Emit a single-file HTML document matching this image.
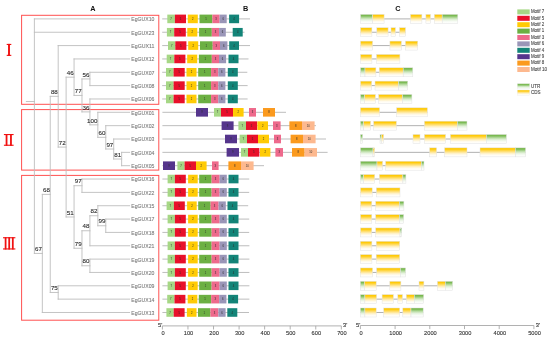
<!DOCTYPE html>
<html><head><meta charset="utf-8"><title>EgGUX</title>
<style>html,body{margin:0;padding:0;background:#fff;width:550px;height:340px;overflow:hidden}svg{display:block;font-family:"Liberation Sans",sans-serif;will-change:transform}</style></head><body>
<svg width="550" height="340" viewBox="0 0 550 340">
<defs><linearGradient id="gc" x1="0" y1="0" x2="0" y2="1"><stop offset="0" stop-color="#ffc800"/><stop offset="0.15" stop-color="#ffca0a"/><stop offset="0.4" stop-color="#ffdf72"/><stop offset="0.6" stop-color="#fff0c2"/><stop offset="0.8" stop-color="#fffcf3"/><stop offset="1" stop-color="#ffffff"/></linearGradient><linearGradient id="gu" x1="0" y1="0" x2="0" y2="1"><stop offset="0" stop-color="#70b341"/><stop offset="0.15" stop-color="#7cbb55"/><stop offset="0.4" stop-color="#bddfa9"/><stop offset="0.6" stop-color="#e5f2dd"/><stop offset="0.8" stop-color="#f8fcf6"/><stop offset="1" stop-color="#ffffff"/></linearGradient><linearGradient id="lgc" x1="0" y1="0" x2="0" y2="1"><stop offset="0" stop-color="#ffc800"/><stop offset="0.25" stop-color="#ffcd20"/><stop offset="0.55" stop-color="#ffeaa8"/><stop offset="0.8" stop-color="#fffaea"/><stop offset="1" stop-color="#ffffff"/></linearGradient><linearGradient id="lgu" x1="0" y1="0" x2="0" y2="1"><stop offset="0" stop-color="#72b443"/><stop offset="0.25" stop-color="#86c062"/><stop offset="0.55" stop-color="#cfe7c2"/><stop offset="0.8" stop-color="#f3f9ef"/><stop offset="1" stop-color="#ffffff"/></linearGradient></defs>
<rect width="550" height="340" fill="#fff"/>
<g font-weight="bold" font-size="7.3" fill="#111">
<text x="92.9" y="11" text-anchor="middle">A</text>
<text x="245.6" y="11" text-anchor="middle">B</text>
<text x="398" y="11" text-anchor="middle">C</text>
</g>
<g fill="none" stroke="#ff5050" stroke-width="1">
<rect x="21.6" y="15.3" width="137.2" height="89"/>
<rect x="21.6" y="109.6" width="137.2" height="60.5"/>
<rect x="21.6" y="175.4" width="137.2" height="144.8"/>
</g>
<g fill="#f01010">
<rect x="8.05" y="43.9" width="1.9" height="12"/><rect x="6.7" y="43.9" width="4.6" height="1.1"/><rect x="6.7" y="54.8" width="4.6" height="1.1"/>
<rect x="5.65" y="134" width="1.8" height="11.8"/><rect x="10.05" y="134" width="1.8" height="11.8"/><rect x="3.9" y="134" width="9.7" height="1.1"/><rect x="3.9" y="144.7" width="9.7" height="1.1"/>
<rect x="4.72" y="237.2" width="1.75" height="12.3"/><rect x="8.32" y="237.2" width="1.75" height="12.3"/><rect x="11.93" y="237.2" width="1.75" height="12.3"/><rect x="3.02" y="237.2" width="12.35" height="1.1"/><rect x="3.02" y="248.4" width="12.35" height="1.1"/>
</g>
<g stroke="#bdbdbd" stroke-width="0.9" fill="none" stroke-linecap="square">
<line x1="34.4" y1="18.9" x2="34.4" y2="253.45"/>
<line x1="34.4" y1="18.9" x2="129.6" y2="18.9"/>
<line x1="34.4" y1="32.24" x2="129.6" y2="32.24"/>
<line x1="34.4" y1="253.45" x2="42.33" y2="253.45"/>
<line x1="42.33" y1="194.4" x2="42.33" y2="312.49"/>
<line x1="42.33" y1="194.4" x2="50.26" y2="194.4"/>
<line x1="42.33" y1="312.49" x2="129.6" y2="312.49"/>
<line x1="50.26" y1="96.34" x2="50.26" y2="292.47"/>
<line x1="50.26" y1="96.34" x2="58.19" y2="96.34"/>
<line x1="50.26" y1="292.47" x2="58.19" y2="292.47"/>
<line x1="58.19" y1="45.59" x2="58.19" y2="147.08"/>
<line x1="58.19" y1="45.59" x2="129.6" y2="45.59"/>
<line x1="58.19" y1="147.08" x2="66.12" y2="147.08"/>
<line x1="66.12" y1="77.18" x2="66.12" y2="216.99"/>
<line x1="66.12" y1="77.18" x2="74.05" y2="77.18"/>
<line x1="66.12" y1="216.99" x2="74.05" y2="216.99"/>
<line x1="74.05" y1="58.94" x2="74.05" y2="95.43"/>
<line x1="74.05" y1="58.94" x2="129.6" y2="58.94"/>
<line x1="74.05" y1="95.43" x2="81.98" y2="95.43"/>
<line x1="81.98" y1="78.95" x2="81.98" y2="111.9"/>
<line x1="81.98" y1="78.95" x2="89.91" y2="78.95"/>
<line x1="81.98" y1="111.9" x2="89.91" y2="111.9"/>
<line x1="89.91" y1="72.28" x2="89.91" y2="85.62"/>
<line x1="89.91" y1="72.28" x2="129.6" y2="72.28"/>
<line x1="89.91" y1="85.62" x2="129.6" y2="85.62"/>
<line x1="89.91" y1="98.97" x2="89.91" y2="124.83"/>
<line x1="89.91" y1="98.97" x2="129.6" y2="98.97"/>
<line x1="89.91" y1="124.83" x2="97.84" y2="124.83"/>
<line x1="97.84" y1="112.31" x2="97.84" y2="137.34"/>
<line x1="97.84" y1="112.31" x2="129.6" y2="112.31"/>
<line x1="97.84" y1="137.34" x2="105.77" y2="137.34"/>
<line x1="105.77" y1="125.66" x2="105.77" y2="149.01"/>
<line x1="105.77" y1="125.66" x2="129.6" y2="125.66"/>
<line x1="105.77" y1="149.01" x2="113.7" y2="149.01"/>
<line x1="113.7" y1="139" x2="113.7" y2="159.02"/>
<line x1="113.7" y1="139" x2="129.6" y2="139"/>
<line x1="113.7" y1="159.02" x2="121.63" y2="159.02"/>
<line x1="121.63" y1="152.35" x2="121.63" y2="165.7"/>
<line x1="121.63" y1="152.35" x2="129.6" y2="152.35"/>
<line x1="121.63" y1="165.7" x2="129.6" y2="165.7"/>
<line x1="74.05" y1="185.71" x2="74.05" y2="248.27"/>
<line x1="74.05" y1="185.71" x2="81.98" y2="185.71"/>
<line x1="74.05" y1="248.27" x2="81.98" y2="248.27"/>
<line x1="81.98" y1="179.04" x2="81.98" y2="192.39"/>
<line x1="81.98" y1="179.04" x2="129.6" y2="179.04"/>
<line x1="81.98" y1="192.39" x2="129.6" y2="192.39"/>
<line x1="81.98" y1="230.75" x2="81.98" y2="265.78"/>
<line x1="81.98" y1="230.75" x2="89.91" y2="230.75"/>
<line x1="81.98" y1="265.78" x2="89.91" y2="265.78"/>
<line x1="89.91" y1="215.74" x2="89.91" y2="245.77"/>
<line x1="89.91" y1="215.74" x2="97.84" y2="215.74"/>
<line x1="89.91" y1="245.77" x2="129.6" y2="245.77"/>
<line x1="97.84" y1="205.73" x2="97.84" y2="225.75"/>
<line x1="97.84" y1="205.73" x2="129.6" y2="205.73"/>
<line x1="97.84" y1="225.75" x2="105.77" y2="225.75"/>
<line x1="105.77" y1="219.08" x2="105.77" y2="232.42"/>
<line x1="105.77" y1="219.08" x2="129.6" y2="219.08"/>
<line x1="105.77" y1="232.42" x2="129.6" y2="232.42"/>
<line x1="89.91" y1="259.11" x2="89.91" y2="272.45"/>
<line x1="89.91" y1="259.11" x2="129.6" y2="259.11"/>
<line x1="89.91" y1="272.45" x2="129.6" y2="272.45"/>
<line x1="58.19" y1="285.8" x2="58.19" y2="299.14"/>
<line x1="58.19" y1="285.8" x2="129.6" y2="285.8"/>
<line x1="58.19" y1="299.14" x2="129.6" y2="299.14"/>
<line x1="26.4" y1="101.53" x2="34.4" y2="101.53"/>
</g>
<g font-size="6.2" fill="#2a2a2a" stroke="#2a2a2a" stroke-width="0.1" text-anchor="end">
<text x="41.93" y="251.15">67</text>
<text x="49.86" y="192.1">68</text>
<text x="57.79" y="94.04">88</text>
<text x="57.79" y="290.17">75</text>
<text x="65.72" y="144.78">72</text>
<text x="73.65" y="74.88">46</text>
<text x="73.65" y="214.69">51</text>
<text x="81.58" y="93.13">77</text>
<text x="89.51" y="76.65">56</text>
<text x="89.51" y="109.6">36</text>
<text x="97.44" y="122.53">100</text>
<text x="105.37" y="135.04">60</text>
<text x="113.3" y="146.71">97</text>
<text x="121.23" y="156.72">81</text>
<text x="81.58" y="183.41">97</text>
<text x="81.58" y="245.97">79</text>
<text x="89.51" y="228.45">48</text>
<text x="89.51" y="263.48">80</text>
<text x="97.44" y="213.44">82</text>
<text x="105.37" y="223.45">99</text>
</g>
<g font-size="5.8" fill="#747474" stroke="#747474" stroke-width="0.08">
<text x="131.3" y="21.3" textLength="23.2" lengthAdjust="spacingAndGlyphs">EgGUX10</text>
<text x="131.3" y="34.64" textLength="23.2" lengthAdjust="spacingAndGlyphs">EgGUX23</text>
<text x="131.3" y="47.99" textLength="23.2" lengthAdjust="spacingAndGlyphs">EgGUX11</text>
<text x="131.3" y="61.34" textLength="23.2" lengthAdjust="spacingAndGlyphs">EgGUX12</text>
<text x="131.3" y="74.68" textLength="23.2" lengthAdjust="spacingAndGlyphs">EgGUX07</text>
<text x="131.3" y="88.03" textLength="23.2" lengthAdjust="spacingAndGlyphs">EgGUX08</text>
<text x="131.3" y="101.37" textLength="23.2" lengthAdjust="spacingAndGlyphs">EgGUX06</text>
<text x="131.3" y="114.72" textLength="23.2" lengthAdjust="spacingAndGlyphs">EgGUX01</text>
<text x="131.3" y="128.06" textLength="23.2" lengthAdjust="spacingAndGlyphs">EgGUX02</text>
<text x="131.3" y="141.41" textLength="23.2" lengthAdjust="spacingAndGlyphs">EgGUX03</text>
<text x="131.3" y="154.75" textLength="23.2" lengthAdjust="spacingAndGlyphs">EgGUX04</text>
<text x="131.3" y="168.1" textLength="23.2" lengthAdjust="spacingAndGlyphs">EgGUX05</text>
<text x="131.3" y="181.44" textLength="23.2" lengthAdjust="spacingAndGlyphs">EgGUX16</text>
<text x="131.3" y="194.79" textLength="23.2" lengthAdjust="spacingAndGlyphs">EgGUX22</text>
<text x="131.3" y="208.13" textLength="23.2" lengthAdjust="spacingAndGlyphs">EgGUX15</text>
<text x="131.3" y="221.48" textLength="23.2" lengthAdjust="spacingAndGlyphs">EgGUX17</text>
<text x="131.3" y="234.82" textLength="23.2" lengthAdjust="spacingAndGlyphs">EgGUX18</text>
<text x="131.3" y="248.17" textLength="23.2" lengthAdjust="spacingAndGlyphs">EgGUX21</text>
<text x="131.3" y="261.51" textLength="23.2" lengthAdjust="spacingAndGlyphs">EgGUX19</text>
<text x="131.3" y="274.85" textLength="23.2" lengthAdjust="spacingAndGlyphs">EgGUX20</text>
<text x="131.3" y="288.2" textLength="23.2" lengthAdjust="spacingAndGlyphs">EgGUX09</text>
<text x="131.3" y="301.54" textLength="23.2" lengthAdjust="spacingAndGlyphs">EgGUX14</text>
<text x="131.3" y="314.89" textLength="23.2" lengthAdjust="spacingAndGlyphs">EgGUX13</text>
</g>
<g stroke="#b5b5b5" stroke-width="0.9">
<line x1="162.2" y1="18.9" x2="250" y2="18.9"/>
<line x1="162.2" y1="32.24" x2="244.5" y2="32.24"/>
<line x1="162.2" y1="45.59" x2="250" y2="45.59"/>
<line x1="162.2" y1="58.94" x2="248.5" y2="58.94"/>
<line x1="162.2" y1="72.28" x2="247.3" y2="72.28"/>
<line x1="162.2" y1="85.62" x2="247.6" y2="85.62"/>
<line x1="162.2" y1="98.97" x2="247.6" y2="98.97"/>
<line x1="162.4" y1="112.31" x2="286" y2="112.31"/>
<line x1="162.4" y1="125.66" x2="316" y2="125.66"/>
<line x1="162.4" y1="139" x2="326" y2="139"/>
<line x1="162.4" y1="152.35" x2="327.6" y2="152.35"/>
<line x1="162.4" y1="165.7" x2="264" y2="165.7"/>
<line x1="162.4" y1="179.04" x2="249.2" y2="179.04"/>
<line x1="162.4" y1="192.39" x2="249.2" y2="192.39"/>
<line x1="162.4" y1="205.73" x2="248.2" y2="205.73"/>
<line x1="162.4" y1="219.08" x2="249.2" y2="219.08"/>
<line x1="162.4" y1="232.42" x2="249.2" y2="232.42"/>
<line x1="162.4" y1="245.77" x2="249.4" y2="245.77"/>
<line x1="162.4" y1="259.11" x2="249.4" y2="259.11"/>
<line x1="162.4" y1="272.45" x2="249.4" y2="272.45"/>
<line x1="162.4" y1="285.8" x2="249.4" y2="285.8"/>
<line x1="162.4" y1="299.14" x2="249.4" y2="299.14"/>
<line x1="162.4" y1="312.49" x2="249" y2="312.49"/>
</g>
<g>
<rect x="167.3" y="14.6" width="7.6" height="8.6" fill="#a6d785"/>
<rect x="174.9" y="14.6" width="11.1" height="8.6" fill="#e8102a"/>
<rect x="187.8" y="14.6" width="10" height="8.6" fill="#ffcb05"/>
<rect x="199.5" y="14.6" width="12.9" height="8.6" fill="#6cb043"/>
<rect x="212.4" y="14.6" width="7.2" height="8.6" fill="#ee6a8c"/>
<rect x="219.6" y="14.6" width="7.1" height="8.6" fill="#9a96b8"/>
<rect x="229.1" y="14.6" width="10" height="8.6" fill="#138478"/>
<rect x="166.9" y="27.94" width="7.3" height="8.6" fill="#a6d785"/>
<rect x="174.2" y="27.94" width="11.6" height="8.6" fill="#e8102a"/>
<rect x="187.3" y="27.94" width="10" height="8.6" fill="#ffcb05"/>
<rect x="199.1" y="27.94" width="12.7" height="8.6" fill="#6cb043"/>
<rect x="211.8" y="27.94" width="7.3" height="8.6" fill="#ee6a8c"/>
<rect x="219.1" y="27.94" width="6.7" height="8.6" fill="#9a96b8"/>
<rect x="232.7" y="27.94" width="10" height="8.6" fill="#138478"/>
<rect x="168" y="41.29" width="7.3" height="8.6" fill="#a6d785"/>
<rect x="175.3" y="41.29" width="11.1" height="8.6" fill="#e8102a"/>
<rect x="188.2" y="41.29" width="10" height="8.6" fill="#ffcb05"/>
<rect x="200" y="41.29" width="12.7" height="8.6" fill="#6cb043"/>
<rect x="212.7" y="41.29" width="7.3" height="8.6" fill="#ee6a8c"/>
<rect x="220" y="41.29" width="7.4" height="8.6" fill="#9a96b8"/>
<rect x="229.2" y="41.29" width="9.8" height="8.6" fill="#138478"/>
<rect x="166.7" y="54.64" width="7.6" height="8.6" fill="#a6d785"/>
<rect x="174.3" y="54.64" width="11.1" height="8.6" fill="#e8102a"/>
<rect x="187.2" y="54.64" width="10" height="8.6" fill="#ffcb05"/>
<rect x="198.9" y="54.64" width="12.9" height="8.6" fill="#6cb043"/>
<rect x="211.8" y="54.64" width="7.2" height="8.6" fill="#ee6a8c"/>
<rect x="219" y="54.64" width="7.1" height="8.6" fill="#9a96b8"/>
<rect x="228.5" y="54.64" width="10" height="8.6" fill="#138478"/>
<rect x="166" y="67.98" width="7.6" height="8.6" fill="#a6d785"/>
<rect x="173.6" y="67.98" width="11.1" height="8.6" fill="#e8102a"/>
<rect x="186.5" y="67.98" width="10" height="8.6" fill="#ffcb05"/>
<rect x="198.2" y="67.98" width="12.9" height="8.6" fill="#6cb043"/>
<rect x="211.1" y="67.98" width="7.2" height="8.6" fill="#ee6a8c"/>
<rect x="218.3" y="67.98" width="7.1" height="8.6" fill="#9a96b8"/>
<rect x="227.8" y="67.98" width="10" height="8.6" fill="#138478"/>
<rect x="166" y="81.33" width="7.6" height="8.6" fill="#a6d785"/>
<rect x="173.6" y="81.33" width="11.1" height="8.6" fill="#e8102a"/>
<rect x="186.5" y="81.33" width="10" height="8.6" fill="#ffcb05"/>
<rect x="198.2" y="81.33" width="12.9" height="8.6" fill="#6cb043"/>
<rect x="211.1" y="81.33" width="7.2" height="8.6" fill="#ee6a8c"/>
<rect x="218.3" y="81.33" width="7.1" height="8.6" fill="#9a96b8"/>
<rect x="227.8" y="81.33" width="10" height="8.6" fill="#138478"/>
<rect x="166" y="94.67" width="7.6" height="8.6" fill="#a6d785"/>
<rect x="173.6" y="94.67" width="11.1" height="8.6" fill="#e8102a"/>
<rect x="186.5" y="94.67" width="10" height="8.6" fill="#ffcb05"/>
<rect x="198.2" y="94.67" width="12.9" height="8.6" fill="#6cb043"/>
<rect x="211.1" y="94.67" width="7.2" height="8.6" fill="#ee6a8c"/>
<rect x="218.3" y="94.67" width="7.1" height="8.6" fill="#9a96b8"/>
<rect x="227.8" y="94.67" width="10" height="8.6" fill="#138478"/>
<rect x="196" y="108.02" width="12" height="8.6" fill="#55358c"/>
<rect x="214" y="108.02" width="7" height="8.6" fill="#a6d785"/>
<rect x="221" y="108.02" width="12" height="8.6" fill="#e8102a"/>
<rect x="233" y="108.02" width="10.6" height="8.6" fill="#ffcb05"/>
<rect x="249" y="108.02" width="7" height="8.6" fill="#ee6a8c"/>
<rect x="263" y="108.02" width="12" height="8.6" fill="#fb9a1e"/>
<rect x="221.6" y="121.36" width="12" height="8.6" fill="#55358c"/>
<rect x="238.4" y="121.36" width="7.6" height="8.6" fill="#a6d785"/>
<rect x="246" y="121.36" width="11.2" height="8.6" fill="#e8102a"/>
<rect x="257.4" y="121.36" width="10.6" height="8.6" fill="#ffcb05"/>
<rect x="273" y="121.36" width="7.6" height="8.6" fill="#ee6a8c"/>
<rect x="289.4" y="121.36" width="12.6" height="8.6" fill="#fb9a1e"/>
<rect x="302" y="121.36" width="12.6" height="8.6" fill="#fdb98f"/>
<rect x="225" y="134.7" width="12" height="8.6" fill="#55358c"/>
<rect x="239.6" y="134.7" width="7.4" height="8.6" fill="#a6d785"/>
<rect x="247" y="134.7" width="11" height="8.6" fill="#e8102a"/>
<rect x="258" y="134.7" width="11" height="8.6" fill="#ffcb05"/>
<rect x="274" y="134.7" width="7" height="8.6" fill="#ee6a8c"/>
<rect x="290.6" y="134.7" width="12.4" height="8.6" fill="#fb9a1e"/>
<rect x="303" y="134.7" width="12.6" height="8.6" fill="#fdb98f"/>
<rect x="226.6" y="148.05" width="12.4" height="8.6" fill="#55358c"/>
<rect x="241" y="148.05" width="7" height="8.6" fill="#a6d785"/>
<rect x="248" y="148.05" width="11.4" height="8.6" fill="#e8102a"/>
<rect x="260" y="148.05" width="10.4" height="8.6" fill="#ffcb05"/>
<rect x="275.4" y="148.05" width="7.6" height="8.6" fill="#ee6a8c"/>
<rect x="292" y="148.05" width="12.6" height="8.6" fill="#fb9a1e"/>
<rect x="304.6" y="148.05" width="12.4" height="8.6" fill="#fdb98f"/>
<rect x="163" y="161.4" width="12" height="8.6" fill="#55358c"/>
<rect x="177.4" y="161.4" width="7.2" height="8.6" fill="#a6d785"/>
<rect x="184.6" y="161.4" width="11.4" height="8.6" fill="#e8102a"/>
<rect x="196" y="161.4" width="10.6" height="8.6" fill="#ffcb05"/>
<rect x="212" y="161.4" width="6.6" height="8.6" fill="#ee6a8c"/>
<rect x="228.4" y="161.4" width="12.6" height="8.6" fill="#fb9a1e"/>
<rect x="241" y="161.4" width="12.6" height="8.6" fill="#fdb98f"/>
<rect x="167.6" y="174.74" width="7.3" height="8.6" fill="#a6d785"/>
<rect x="174.9" y="174.74" width="10.9" height="8.6" fill="#e8102a"/>
<rect x="188.1" y="174.74" width="9.6" height="8.6" fill="#ffcb05"/>
<rect x="199.2" y="174.74" width="12.4" height="8.6" fill="#6cb043"/>
<rect x="211.6" y="174.74" width="8" height="8.6" fill="#ee6a8c"/>
<rect x="219.6" y="174.74" width="7.2" height="8.6" fill="#9a96b8"/>
<rect x="228.5" y="174.74" width="10" height="8.6" fill="#138478"/>
<rect x="167.6" y="188.09" width="7.3" height="8.6" fill="#a6d785"/>
<rect x="174.9" y="188.09" width="10.9" height="8.6" fill="#e8102a"/>
<rect x="188.1" y="188.09" width="9.6" height="8.6" fill="#ffcb05"/>
<rect x="199.2" y="188.09" width="12.4" height="8.6" fill="#6cb043"/>
<rect x="211.6" y="188.09" width="8" height="8.6" fill="#ee6a8c"/>
<rect x="219.6" y="188.09" width="7.2" height="8.6" fill="#9a96b8"/>
<rect x="228.5" y="188.09" width="10" height="8.6" fill="#138478"/>
<rect x="166.6" y="201.43" width="7.3" height="8.6" fill="#a6d785"/>
<rect x="173.9" y="201.43" width="10.9" height="8.6" fill="#e8102a"/>
<rect x="187.1" y="201.43" width="9.6" height="8.6" fill="#ffcb05"/>
<rect x="198.2" y="201.43" width="12.4" height="8.6" fill="#6cb043"/>
<rect x="210.6" y="201.43" width="8" height="8.6" fill="#ee6a8c"/>
<rect x="218.6" y="201.43" width="7.2" height="8.6" fill="#9a96b8"/>
<rect x="227.5" y="201.43" width="10" height="8.6" fill="#138478"/>
<rect x="167.6" y="214.78" width="7.3" height="8.6" fill="#a6d785"/>
<rect x="174.9" y="214.78" width="10.9" height="8.6" fill="#e8102a"/>
<rect x="188.1" y="214.78" width="9.6" height="8.6" fill="#ffcb05"/>
<rect x="199.2" y="214.78" width="12.4" height="8.6" fill="#6cb043"/>
<rect x="211.6" y="214.78" width="8" height="8.6" fill="#ee6a8c"/>
<rect x="219.6" y="214.78" width="7.2" height="8.6" fill="#9a96b8"/>
<rect x="228.5" y="214.78" width="10" height="8.6" fill="#138478"/>
<rect x="167.6" y="228.12" width="7.3" height="8.6" fill="#a6d785"/>
<rect x="174.9" y="228.12" width="10.9" height="8.6" fill="#e8102a"/>
<rect x="188.1" y="228.12" width="9.6" height="8.6" fill="#ffcb05"/>
<rect x="199.2" y="228.12" width="12.4" height="8.6" fill="#6cb043"/>
<rect x="211.6" y="228.12" width="8" height="8.6" fill="#ee6a8c"/>
<rect x="219.6" y="228.12" width="7.2" height="8.6" fill="#9a96b8"/>
<rect x="228.5" y="228.12" width="10" height="8.6" fill="#138478"/>
<rect x="167.6" y="241.47" width="7.3" height="8.6" fill="#a6d785"/>
<rect x="174.9" y="241.47" width="10.9" height="8.6" fill="#e8102a"/>
<rect x="188.1" y="241.47" width="9.6" height="8.6" fill="#ffcb05"/>
<rect x="199.2" y="241.47" width="12.4" height="8.6" fill="#6cb043"/>
<rect x="211.6" y="241.47" width="8" height="8.6" fill="#ee6a8c"/>
<rect x="219.6" y="241.47" width="7.2" height="8.6" fill="#9a96b8"/>
<rect x="228.5" y="241.47" width="10" height="8.6" fill="#138478"/>
<rect x="167.6" y="254.81" width="7.3" height="8.6" fill="#a6d785"/>
<rect x="174.9" y="254.81" width="10.9" height="8.6" fill="#e8102a"/>
<rect x="188.1" y="254.81" width="9.6" height="8.6" fill="#ffcb05"/>
<rect x="199.2" y="254.81" width="12.4" height="8.6" fill="#6cb043"/>
<rect x="211.6" y="254.81" width="8" height="8.6" fill="#ee6a8c"/>
<rect x="219.6" y="254.81" width="7.2" height="8.6" fill="#9a96b8"/>
<rect x="228.5" y="254.81" width="10" height="8.6" fill="#138478"/>
<rect x="167.6" y="268.15" width="7.3" height="8.6" fill="#a6d785"/>
<rect x="174.9" y="268.15" width="10.9" height="8.6" fill="#e8102a"/>
<rect x="188.1" y="268.15" width="9.6" height="8.6" fill="#ffcb05"/>
<rect x="199.2" y="268.15" width="12.4" height="8.6" fill="#6cb043"/>
<rect x="211.6" y="268.15" width="8" height="8.6" fill="#ee6a8c"/>
<rect x="219.6" y="268.15" width="7.2" height="8.6" fill="#9a96b8"/>
<rect x="228.5" y="268.15" width="10" height="8.6" fill="#138478"/>
<rect x="167.6" y="281.5" width="7.3" height="8.6" fill="#a6d785"/>
<rect x="174.9" y="281.5" width="10.9" height="8.6" fill="#e8102a"/>
<rect x="188.1" y="281.5" width="9.6" height="8.6" fill="#ffcb05"/>
<rect x="199.2" y="281.5" width="12.4" height="8.6" fill="#6cb043"/>
<rect x="211.6" y="281.5" width="8" height="8.6" fill="#ee6a8c"/>
<rect x="219.6" y="281.5" width="7.2" height="8.6" fill="#9a96b8"/>
<rect x="228.5" y="281.5" width="10" height="8.6" fill="#138478"/>
<rect x="167.2" y="294.84" width="7.3" height="8.6" fill="#a6d785"/>
<rect x="174.5" y="294.84" width="10.9" height="8.6" fill="#e8102a"/>
<rect x="187.7" y="294.84" width="9.6" height="8.6" fill="#ffcb05"/>
<rect x="198.8" y="294.84" width="12.4" height="8.6" fill="#6cb043"/>
<rect x="211.2" y="294.84" width="8" height="8.6" fill="#ee6a8c"/>
<rect x="219.2" y="294.84" width="7.2" height="8.6" fill="#9a96b8"/>
<rect x="228.1" y="294.84" width="10" height="8.6" fill="#138478"/>
<rect x="166.4" y="308.19" width="7.3" height="8.6" fill="#a6d785"/>
<rect x="173.7" y="308.19" width="10.9" height="8.6" fill="#e8102a"/>
<rect x="186.9" y="308.19" width="9.6" height="8.6" fill="#ffcb05"/>
<rect x="198" y="308.19" width="12.4" height="8.6" fill="#6cb043"/>
<rect x="210.4" y="308.19" width="8" height="8.6" fill="#ee6a8c"/>
<rect x="218.4" y="308.19" width="7.2" height="8.6" fill="#9a96b8"/>
<rect x="227.3" y="308.19" width="10" height="8.6" fill="#138478"/>
</g>
<g font-size="2.7" fill="#2a2a2a" text-anchor="middle">
<text x="171.1" y="19.95">7</text>
<text x="180.45" y="19.95">5</text>
<text x="192.8" y="19.95">2</text>
<text x="205.95" y="19.95">1</text>
<text x="216" y="19.95">3</text>
<text x="223.15" y="19.95">6</text>
<text x="234.1" y="19.95">4</text>
<text x="170.55" y="33.29">7</text>
<text x="180" y="33.29">5</text>
<text x="192.3" y="33.29">2</text>
<text x="205.45" y="33.29">1</text>
<text x="215.45" y="33.29">3</text>
<text x="222.45" y="33.29">6</text>
<text x="237.7" y="33.29">4</text>
<text x="171.65" y="46.64">7</text>
<text x="180.85" y="46.64">5</text>
<text x="193.2" y="46.64">2</text>
<text x="206.35" y="46.64">1</text>
<text x="216.35" y="46.64">3</text>
<text x="223.7" y="46.64">6</text>
<text x="234.1" y="46.64">4</text>
<text x="170.5" y="59.98">7</text>
<text x="179.85" y="59.98">5</text>
<text x="192.2" y="59.98">2</text>
<text x="205.35" y="59.98">1</text>
<text x="215.4" y="59.98">3</text>
<text x="222.55" y="59.98">6</text>
<text x="233.5" y="59.98">4</text>
<text x="169.8" y="73.33">7</text>
<text x="179.15" y="73.33">5</text>
<text x="191.5" y="73.33">2</text>
<text x="204.65" y="73.33">1</text>
<text x="214.7" y="73.33">3</text>
<text x="221.85" y="73.33">6</text>
<text x="232.8" y="73.33">4</text>
<text x="169.8" y="86.67">7</text>
<text x="179.15" y="86.67">5</text>
<text x="191.5" y="86.67">2</text>
<text x="204.65" y="86.67">1</text>
<text x="214.7" y="86.67">3</text>
<text x="221.85" y="86.67">6</text>
<text x="232.8" y="86.67">4</text>
<text x="169.8" y="100.02">7</text>
<text x="179.15" y="100.02">5</text>
<text x="191.5" y="100.02">2</text>
<text x="204.65" y="100.02">1</text>
<text x="214.7" y="100.02">3</text>
<text x="221.85" y="100.02">6</text>
<text x="232.8" y="100.02">4</text>
<text x="202" y="113.36">9</text>
<text x="217.5" y="113.36">7</text>
<text x="227" y="113.36">5</text>
<text x="238.3" y="113.36">2</text>
<text x="252.5" y="113.36">3</text>
<text x="269" y="113.36">8</text>
<text x="227.6" y="126.71">9</text>
<text x="242.2" y="126.71">7</text>
<text x="251.6" y="126.71">5</text>
<text x="262.7" y="126.71">2</text>
<text x="276.8" y="126.71">3</text>
<text x="295.7" y="126.71">8</text>
<text x="308.3" y="126.71">10</text>
<text x="231" y="140.06">9</text>
<text x="243.3" y="140.06">7</text>
<text x="252.5" y="140.06">5</text>
<text x="263.5" y="140.06">2</text>
<text x="277.5" y="140.06">3</text>
<text x="296.8" y="140.06">8</text>
<text x="309.3" y="140.06">10</text>
<text x="232.8" y="153.4">9</text>
<text x="244.5" y="153.4">7</text>
<text x="253.7" y="153.4">5</text>
<text x="265.2" y="153.4">2</text>
<text x="279.2" y="153.4">3</text>
<text x="298.3" y="153.4">8</text>
<text x="310.8" y="153.4">10</text>
<text x="169" y="166.75">9</text>
<text x="181" y="166.75">7</text>
<text x="190.3" y="166.75">5</text>
<text x="201.3" y="166.75">2</text>
<text x="215.3" y="166.75">3</text>
<text x="234.7" y="166.75">8</text>
<text x="247.3" y="166.75">10</text>
<text x="171.25" y="180.09">7</text>
<text x="180.35" y="180.09">5</text>
<text x="192.9" y="180.09">2</text>
<text x="205.4" y="180.09">1</text>
<text x="215.6" y="180.09">3</text>
<text x="223.2" y="180.09">6</text>
<text x="233.5" y="180.09">4</text>
<text x="171.25" y="193.44">7</text>
<text x="180.35" y="193.44">5</text>
<text x="192.9" y="193.44">2</text>
<text x="205.4" y="193.44">1</text>
<text x="215.6" y="193.44">3</text>
<text x="223.2" y="193.44">6</text>
<text x="233.5" y="193.44">4</text>
<text x="170.25" y="206.78">7</text>
<text x="179.35" y="206.78">5</text>
<text x="191.9" y="206.78">2</text>
<text x="204.4" y="206.78">1</text>
<text x="214.6" y="206.78">3</text>
<text x="222.2" y="206.78">6</text>
<text x="232.5" y="206.78">4</text>
<text x="171.25" y="220.13">7</text>
<text x="180.35" y="220.13">5</text>
<text x="192.9" y="220.13">2</text>
<text x="205.4" y="220.13">1</text>
<text x="215.6" y="220.13">3</text>
<text x="223.2" y="220.13">6</text>
<text x="233.5" y="220.13">4</text>
<text x="171.25" y="233.47">7</text>
<text x="180.35" y="233.47">5</text>
<text x="192.9" y="233.47">2</text>
<text x="205.4" y="233.47">1</text>
<text x="215.6" y="233.47">3</text>
<text x="223.2" y="233.47">6</text>
<text x="233.5" y="233.47">4</text>
<text x="171.25" y="246.82">7</text>
<text x="180.35" y="246.82">5</text>
<text x="192.9" y="246.82">2</text>
<text x="205.4" y="246.82">1</text>
<text x="215.6" y="246.82">3</text>
<text x="223.2" y="246.82">6</text>
<text x="233.5" y="246.82">4</text>
<text x="171.25" y="260.16">7</text>
<text x="180.35" y="260.16">5</text>
<text x="192.9" y="260.16">2</text>
<text x="205.4" y="260.16">1</text>
<text x="215.6" y="260.16">3</text>
<text x="223.2" y="260.16">6</text>
<text x="233.5" y="260.16">4</text>
<text x="171.25" y="273.5">7</text>
<text x="180.35" y="273.5">5</text>
<text x="192.9" y="273.5">2</text>
<text x="205.4" y="273.5">1</text>
<text x="215.6" y="273.5">3</text>
<text x="223.2" y="273.5">6</text>
<text x="233.5" y="273.5">4</text>
<text x="171.25" y="286.85">7</text>
<text x="180.35" y="286.85">5</text>
<text x="192.9" y="286.85">2</text>
<text x="205.4" y="286.85">1</text>
<text x="215.6" y="286.85">3</text>
<text x="223.2" y="286.85">6</text>
<text x="233.5" y="286.85">4</text>
<text x="170.85" y="300.19">7</text>
<text x="179.95" y="300.19">5</text>
<text x="192.5" y="300.19">2</text>
<text x="205" y="300.19">1</text>
<text x="215.2" y="300.19">3</text>
<text x="222.8" y="300.19">6</text>
<text x="233.1" y="300.19">4</text>
<text x="170.05" y="313.54">7</text>
<text x="179.15" y="313.54">5</text>
<text x="191.7" y="313.54">2</text>
<text x="204.2" y="313.54">1</text>
<text x="214.4" y="313.54">3</text>
<text x="222" y="313.54">6</text>
<text x="232.3" y="313.54">4</text>
</g>
<g stroke="#a8a8a8" stroke-width="0.9">
<line x1="360.5" y1="18.9" x2="457.8" y2="18.9"/>
<line x1="360.5" y1="32.24" x2="405.5" y2="32.24"/>
<line x1="360.5" y1="45.59" x2="417.7" y2="45.59"/>
<line x1="360.5" y1="58.94" x2="399.9" y2="58.94"/>
<line x1="360.5" y1="72.28" x2="412.8" y2="72.28"/>
<line x1="360.5" y1="85.62" x2="407.7" y2="85.62"/>
<line x1="360.5" y1="98.97" x2="411.9" y2="98.97"/>
<line x1="360.4" y1="112.31" x2="427.4" y2="112.31"/>
<line x1="360.4" y1="125.66" x2="467" y2="125.66"/>
<line x1="360.4" y1="139" x2="506.4" y2="139"/>
<line x1="360.4" y1="152.35" x2="525.6" y2="152.35"/>
<line x1="360.4" y1="165.7" x2="424" y2="165.7"/>
<line x1="360.5" y1="179.04" x2="405.9" y2="179.04"/>
<line x1="360.5" y1="192.39" x2="400" y2="192.39"/>
<line x1="360.5" y1="205.73" x2="403.9" y2="205.73"/>
<line x1="360.5" y1="219.08" x2="403.7" y2="219.08"/>
<line x1="360.5" y1="232.42" x2="401.7" y2="232.42"/>
<line x1="360.3" y1="245.77" x2="399.7" y2="245.77"/>
<line x1="360.3" y1="259.11" x2="399.7" y2="259.11"/>
<line x1="360.3" y1="272.45" x2="405.6" y2="272.45"/>
<line x1="360.3" y1="285.8" x2="452.6" y2="285.8"/>
<line x1="360.3" y1="299.14" x2="423.7" y2="299.14"/>
<line x1="360.3" y1="312.49" x2="423.2" y2="312.49"/>
</g>
<g stroke="#e2e2e2" stroke-width="0.5">
<rect x="360.5" y="14.4" width="12.1" height="9" fill="url(#gu)"/>
<rect x="372.6" y="14.4" width="11.5" height="9" fill="url(#gc)"/>
<rect x="410.5" y="14.4" width="11.4" height="9" fill="url(#gc)"/>
<rect x="425.9" y="14.4" width="4.6" height="9" fill="url(#gc)"/>
<rect x="434.3" y="14.4" width="7.9" height="9" fill="url(#gc)"/>
<rect x="442.2" y="14.4" width="15.6" height="9" fill="url(#gu)"/>
<rect x="360.5" y="27.74" width="11.4" height="9" fill="url(#gc)"/>
<rect x="376.8" y="27.74" width="11.3" height="9" fill="url(#gc)"/>
<rect x="391" y="27.74" width="4.4" height="9" fill="url(#gc)"/>
<rect x="399.5" y="27.74" width="6" height="9" fill="url(#gc)"/>
<rect x="360.5" y="41.09" width="12.1" height="9" fill="url(#gc)"/>
<rect x="389.9" y="41.09" width="11.5" height="9" fill="url(#gc)"/>
<rect x="405.4" y="41.09" width="12.3" height="9" fill="url(#gc)"/>
<rect x="360.5" y="54.44" width="11.4" height="9" fill="url(#gc)"/>
<rect x="376.5" y="54.44" width="23.4" height="9" fill="url(#gc)"/>
<rect x="360.5" y="67.78" width="4.5" height="9" fill="url(#gu)"/>
<rect x="365" y="67.78" width="10.9" height="9" fill="url(#gc)"/>
<rect x="379.2" y="67.78" width="24" height="9" fill="url(#gc)"/>
<rect x="403.2" y="67.78" width="9.6" height="9" fill="url(#gu)"/>
<rect x="360.5" y="81.12" width="11.2" height="9" fill="url(#gc)"/>
<rect x="375" y="81.12" width="23.6" height="9" fill="url(#gc)"/>
<rect x="398.6" y="81.12" width="9.1" height="9" fill="url(#gu)"/>
<rect x="360.5" y="94.47" width="4" height="9" fill="url(#gu)"/>
<rect x="364.5" y="94.47" width="10.9" height="9" fill="url(#gc)"/>
<rect x="378.6" y="94.47" width="24" height="9" fill="url(#gc)"/>
<rect x="402.6" y="94.47" width="9.3" height="9" fill="url(#gu)"/>
<rect x="360.4" y="107.81" width="19.2" height="9" fill="url(#gc)"/>
<rect x="396.6" y="107.81" width="30.8" height="9" fill="url(#gc)"/>
<rect x="360.4" y="121.16" width="3.2" height="9" fill="url(#gu)"/>
<rect x="363.6" y="121.16" width="7" height="9" fill="url(#gc)"/>
<rect x="373.6" y="121.16" width="22.8" height="9" fill="url(#gc)"/>
<rect x="424.4" y="121.16" width="33" height="9" fill="url(#gc)"/>
<rect x="457.4" y="121.16" width="9.6" height="9" fill="url(#gu)"/>
<rect x="360.4" y="134.5" width="2.2" height="9" fill="url(#gu)"/>
<rect x="380" y="134.5" width="1.4" height="9" fill="url(#gu)"/>
<rect x="381.4" y="134.5" width="2.2" height="9" fill="url(#gc)"/>
<rect x="413" y="134.5" width="7" height="9" fill="url(#gc)"/>
<rect x="424.4" y="134.5" width="21.2" height="9" fill="url(#gc)"/>
<rect x="450.4" y="134.5" width="36" height="9" fill="url(#gc)"/>
<rect x="486.4" y="134.5" width="20" height="9" fill="url(#gu)"/>
<rect x="360.4" y="147.85" width="12.6" height="9" fill="url(#gu)"/>
<rect x="373" y="147.85" width="1.6" height="9" fill="url(#gc)"/>
<rect x="429.6" y="147.85" width="7" height="9" fill="url(#gc)"/>
<rect x="444.6" y="147.85" width="22.4" height="9" fill="url(#gc)"/>
<rect x="480" y="147.85" width="35.4" height="9" fill="url(#gc)"/>
<rect x="515.4" y="147.85" width="10.2" height="9" fill="url(#gu)"/>
<rect x="360.4" y="161.2" width="16.6" height="9" fill="url(#gu)"/>
<rect x="377" y="161.2" width="5.6" height="9" fill="url(#gc)"/>
<rect x="385.6" y="161.2" width="35.8" height="9" fill="url(#gc)"/>
<rect x="421.4" y="161.2" width="2.6" height="9" fill="url(#gu)"/>
<rect x="360.5" y="174.54" width="3" height="9" fill="url(#gu)"/>
<rect x="363.5" y="174.54" width="11.2" height="9" fill="url(#gc)"/>
<rect x="379.3" y="174.54" width="23.6" height="9" fill="url(#gc)"/>
<rect x="402.9" y="174.54" width="3" height="9" fill="url(#gu)"/>
<rect x="360.5" y="187.89" width="11.7" height="9" fill="url(#gc)"/>
<rect x="376.3" y="187.89" width="23.7" height="9" fill="url(#gc)"/>
<rect x="360.5" y="201.23" width="11.3" height="9" fill="url(#gc)"/>
<rect x="375.7" y="201.23" width="23.7" height="9" fill="url(#gc)"/>
<rect x="399.4" y="201.23" width="4.5" height="9" fill="url(#gu)"/>
<rect x="360.5" y="214.58" width="11.3" height="9" fill="url(#gc)"/>
<rect x="375.7" y="214.58" width="23.7" height="9" fill="url(#gc)"/>
<rect x="399.4" y="214.58" width="4.3" height="9" fill="url(#gu)"/>
<rect x="360.5" y="227.92" width="11.3" height="9" fill="url(#gc)"/>
<rect x="375.7" y="227.92" width="24.3" height="9" fill="url(#gc)"/>
<rect x="400" y="227.92" width="1.7" height="9" fill="url(#gu)"/>
<rect x="360.3" y="241.27" width="11.6" height="9" fill="url(#gc)"/>
<rect x="376.2" y="241.27" width="23.5" height="9" fill="url(#gc)"/>
<rect x="360.3" y="254.61" width="11.6" height="9" fill="url(#gc)"/>
<rect x="376.2" y="254.61" width="23.5" height="9" fill="url(#gc)"/>
<rect x="360.3" y="267.95" width="12.3" height="9" fill="url(#gc)"/>
<rect x="376.6" y="267.95" width="23.8" height="9" fill="url(#gc)"/>
<rect x="400.4" y="267.95" width="5.2" height="9" fill="url(#gu)"/>
<rect x="360.3" y="281.3" width="4.1" height="9" fill="url(#gu)"/>
<rect x="364.4" y="281.3" width="11.8" height="9" fill="url(#gc)"/>
<rect x="389.8" y="281.3" width="11.1" height="9" fill="url(#gc)"/>
<rect x="419" y="281.3" width="4.9" height="9" fill="url(#gc)"/>
<rect x="437.4" y="281.3" width="7.9" height="9" fill="url(#gc)"/>
<rect x="445.3" y="281.3" width="7.3" height="9" fill="url(#gu)"/>
<rect x="360.3" y="294.64" width="4.6" height="9" fill="url(#gu)"/>
<rect x="364.9" y="294.64" width="11.7" height="9" fill="url(#gc)"/>
<rect x="382.1" y="294.64" width="11.3" height="9" fill="url(#gc)"/>
<rect x="397.8" y="294.64" width="4.7" height="9" fill="url(#gc)"/>
<rect x="406.3" y="294.64" width="8" height="9" fill="url(#gc)"/>
<rect x="414.3" y="294.64" width="9.4" height="9" fill="url(#gu)"/>
<rect x="360.3" y="307.99" width="4.6" height="9" fill="url(#gu)"/>
<rect x="364.9" y="307.99" width="11.3" height="9" fill="url(#gc)"/>
<rect x="383.7" y="307.99" width="16" height="9" fill="url(#gc)"/>
<rect x="402.8" y="307.99" width="8.2" height="9" fill="url(#gc)"/>
<rect x="411" y="307.99" width="12.2" height="9" fill="url(#gu)"/>
</g>
<g stroke="#a8a8a8" stroke-width="0.9"><line x1="162.4" y1="325.9" x2="341.32" y2="325.9"/><line x1="162.4" y1="325.9" x2="162.4" y2="329.5"/><line x1="187.96" y1="325.9" x2="187.96" y2="329.5"/><line x1="213.52" y1="325.9" x2="213.52" y2="329.5"/><line x1="239.08" y1="325.9" x2="239.08" y2="329.5"/><line x1="264.64" y1="325.9" x2="264.64" y2="329.5"/><line x1="290.2" y1="325.9" x2="290.2" y2="329.5"/><line x1="315.76" y1="325.9" x2="315.76" y2="329.5"/><line x1="341.32" y1="325.9" x2="341.32" y2="329.5"/></g><g font-size="5.7" fill="#333" stroke="#333" stroke-width="0.1" text-anchor="middle"><text x="163" y="335.1">0</text><text x="188.56" y="335.1">100</text><text x="214.12" y="335.1">200</text><text x="239.68" y="335.1">300</text><text x="265.24" y="335.1">400</text><text x="290.8" y="335.1">500</text><text x="316.36" y="335.1">600</text><text x="341.92" y="335.1">700</text></g><g font-size="5.7" fill="#3a3a3a" stroke="#3a3a3a" stroke-width="0.15"><text x="158" y="327.1">5'</text><text x="343" y="327.1">3'</text></g>
<g stroke="#a8a8a8" stroke-width="0.9"><line x1="360.4" y1="325.5" x2="533.9" y2="325.5"/><line x1="360.4" y1="325.5" x2="360.4" y2="329.1"/><line x1="395.1" y1="325.5" x2="395.1" y2="329.1"/><line x1="429.8" y1="325.5" x2="429.8" y2="329.1"/><line x1="464.5" y1="325.5" x2="464.5" y2="329.1"/><line x1="499.2" y1="325.5" x2="499.2" y2="329.1"/><line x1="533.9" y1="325.5" x2="533.9" y2="329.1"/></g><g font-size="5.7" fill="#333" stroke="#333" stroke-width="0.1" text-anchor="middle"><text x="361" y="334.7">0</text><text x="395.7" y="334.7">1000</text><text x="430.4" y="334.7">2000</text><text x="465.1" y="334.7">3000</text><text x="499.8" y="334.7">4000</text><text x="534.5" y="334.7">5000</text></g><g font-size="5.7" fill="#3a3a3a" stroke="#3a3a3a" stroke-width="0.15"><text x="356" y="326.7">5'</text><text x="535.8" y="326.7">3'</text></g>
<g>
<rect x="517.3" y="9.4" width="12.4" height="5" fill="#a6d785"/>
<rect x="517.3" y="15.8" width="12.4" height="5" fill="#e8102a"/>
<rect x="517.3" y="22.2" width="12.4" height="5" fill="#ffcb05"/>
<rect x="517.3" y="28.6" width="12.4" height="5" fill="#6cb043"/>
<rect x="517.3" y="35" width="12.4" height="5" fill="#ee6a8c"/>
<rect x="517.3" y="41.4" width="12.4" height="5" fill="#9a96b8"/>
<rect x="517.3" y="47.8" width="12.4" height="5" fill="#138478"/>
<rect x="517.3" y="54.2" width="12.4" height="5" fill="#55358c"/>
<rect x="517.3" y="60.6" width="12.4" height="5" fill="#fb9a1e"/>
<rect x="517.3" y="67" width="12.4" height="5" fill="#fdb98f"/>
</g>
<g font-size="4.8" fill="#4a4a4a" stroke="#4a4a4a" stroke-width="0.1">
<text x="530.9" y="13.15" textLength="13.3" lengthAdjust="spacingAndGlyphs">Motif 7</text>
<text x="530.9" y="19.55" textLength="13.3" lengthAdjust="spacingAndGlyphs">Motif 5</text>
<text x="530.9" y="25.95" textLength="13.3" lengthAdjust="spacingAndGlyphs">Motif 2</text>
<text x="530.9" y="32.35" textLength="13.3" lengthAdjust="spacingAndGlyphs">Motif 1</text>
<text x="530.9" y="38.75" textLength="13.3" lengthAdjust="spacingAndGlyphs">Motif 3</text>
<text x="530.9" y="45.15" textLength="13.3" lengthAdjust="spacingAndGlyphs">Motif 6</text>
<text x="530.9" y="51.55" textLength="13.3" lengthAdjust="spacingAndGlyphs">Motif 4</text>
<text x="530.9" y="57.95" textLength="13.3" lengthAdjust="spacingAndGlyphs">Motif 9</text>
<text x="530.9" y="64.35" textLength="13.3" lengthAdjust="spacingAndGlyphs">Motif 8</text>
<text x="530.9" y="70.75" textLength="16.2" lengthAdjust="spacingAndGlyphs">Motif 10</text>
</g>
<rect x="517.3" y="83.7" width="12.4" height="5.2" fill="url(#lgu)" stroke="#ececec" stroke-width="0.4"/>
<rect x="517.3" y="90.0" width="12.4" height="5.2" fill="url(#lgc)" stroke="#ececec" stroke-width="0.4"/>
<g font-size="4.5" fill="#4a4a4a" stroke="#4a4a4a" stroke-width="0.12">
<text x="530.9" y="87.6">UTR</text>
<text x="530.9" y="94.1">CDS</text>
</g>
</svg></body></html>
